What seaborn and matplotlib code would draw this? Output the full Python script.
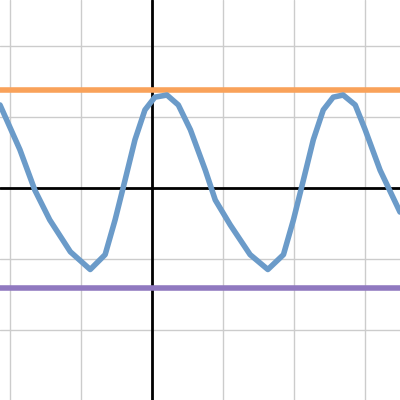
import matplotlib
matplotlib.use("Agg")
import matplotlib.pyplot as plt
import seaborn as sns
import numpy as np
import pandas as pd

curve_x = [-2.14,-1.86,-1.65,-1.44,-1.15,-0.87,-0.66,-0.52,-0.38,-0.24,-0.10,0.04,0.21,0.37,0.54,0.75,0.89,1.10,1.38,1.63,1.85,1.99,2.13,2.27,2.41,2.55,2.69,2.86,3.00,3.21,3.49]
curve_y = [1.17,0.54,-0.03,-0.45,-0.90,-1.15,-0.94,-0.45,0.11,0.68,1.10,1.28,1.31,1.17,0.82,0.25,-0.17,-0.52,-0.94,-1.15,-0.94,-0.45,0.11,0.68,1.10,1.28,1.31,1.17,0.82,0.25,-0.34]
upper_level = 1.38
lower_level = -1.41

sns.set_style("white")
fig = plt.figure(figsize=(4, 4), dpi=100)
ax = fig.add_axes([0, 0, 1, 1])
ax.set_xlim(-2.14, 3.49); ax.set_ylim(-2.99, 2.65)
ax.set_xticks(np.arange(-2, 4, 1)); ax.set_yticks(np.arange(-2, 3, 1))
ax.grid(True, which="major", color="#cccccc", lw=1)
ax.tick_params(which="both", length=0, labelbottom=False, labelleft=False)
for s in ax.spines.values(): s.set_visible(False)
ax.axhline(0, color="black", lw=2); ax.axvline(0, color="black", lw=2)
ax.axhline(upper_level, color="#f9a25a", lw=4)
ax.axhline(lower_level, color="#9079c0", lw=4)
df = pd.DataFrame({"x": curve_x, "y": curve_y})
sns.lineplot(data=df, x="x", y="y", sort=False, ax=ax, color="#6b9bc9", lw=4, solid_capstyle="round", solid_joinstyle="round")
ax.set_xlabel(""); ax.set_ylabel("")
fig.savefig("out.png", dpi=100)
